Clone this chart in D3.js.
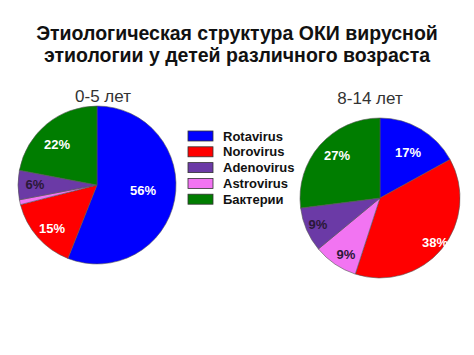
<!DOCTYPE html>
<html>
<head>
<meta charset="utf-8">
<script src="https://cdn.jsdelivr.net/npm/d3@7"></script>
<style>
  body { margin: 0; background: #fff; }
  svg { display: block; font-family: "Liberation Sans", Arial, sans-serif; }
</style>
</head>
<body>
<div id="chart"></div>
<script>
// categories in legend order
var categories = ["Rotavirus", "Norovirus", "Adenovirus", "Astrovirus", "Бактерии"];
var colors = ["#0000ff", "#ff0000", "#6b3aa6", "#f274f2", "#007d00"];

// slice order clockwise from 12 o'clock
var sliceOrder = ["Rotavirus", "Norovirus", "Astrovirus", "Adenovirus", "Бактерии"];
var values0to5 = [56, 15, 1, 6, 22];
var values8to14 = [17, 38, 9, 9, 27];
var labels0to5 = ["56%", "15%", "", "6%", "22%"];
var labels8to14 = ["17%", "38%", "9%", "9%", "27%"];

var titleLines = ["Этиологическая структура ОКИ вирусной", "этиологии у детей различного возраста"];
var pieTitles = ["0-5 лет", "8-14 лет"];

var width = 474, height = 355;

var svg = d3.select("#chart").append("svg")
    .attr("width", width)
    .attr("height", height);

var color = d3.scaleOrdinal().domain(categories).range(colors);

// title
svg.selectAll("text.title")
    .data(titleLines)
    .enter()
    .append("text")
    .attr("class", "title")
    .attr("x", 237)
    .attr("y", function(d, i) { return 40 + i * 22; })
    .attr("text-anchor", "middle")
    .style("font-size", "19.5px")
    .style("font-weight", "bold")
    .style("fill", "#111")
    .text(function(d) { return d; });

var pies = [
    {cx: 97, cy: 185, r: 79, values: values0to5, labels: labels0to5, title: pieTitles[0], tx: 103, ty: 102,
     labelPos: [[143, 190], [52, 228], [0, 0], [35, 184], [57, 144]]},
    {cx: 380, cy: 198, r: 80, values: values8to14, labels: labels8to14, title: pieTitles[1], tx: 370, ty: 104,
     labelPos: [[408, 152], [435, 242], [346, 254], [318, 224], [337, 155]]}
];

var pie = d3.pie().sort(null).value(function(d) { return d.v; });
var arc = d3.arc().innerRadius(0);

pies.forEach(function(p) {
    var data = sliceOrder.map(function(c, i) {
        return {cat: c, v: p.values[i], label: p.labels[i], pos: p.labelPos[i]};
    });
    var g = svg.append("g").attr("transform", "translate(" + p.cx + "," + p.cy + ")");
    var arcs = pie(data);
    arc.outerRadius(p.r);

    g.selectAll("path")
        .data(arcs)
        .enter()
        .append("path")
        .attr("d", arc)
        .style("fill", function(d) { return color(d.data.cat); })
        .style("stroke", "#555")
        .style("stroke-width", 0.6);

    svg.selectAll(null)
        .data(arcs.filter(function(d) { return d.data.label; }))
        .enter()
        .append("text")
        .attr("x", function(d) { return d.data.pos[0]; })
        .attr("y", function(d) { return d.data.pos[1]; })
        .attr("dy", "0.35em")
        .attr("text-anchor", "middle")
        .style("font-size", "13px")
        .style("font-weight", "bold")
        .style("fill", function(d) {
            return (d.data.cat === "Adenovirus" || d.data.cat === "Astrovirus") ? "#2a1838" : "#ffffff";
        })
        .text(function(d) { return d.data.label; });

    svg.append("text")
        .attr("x", p.tx)
        .attr("y", p.ty)
        .attr("text-anchor", "middle")
        .style("font-size", "17px")
        .style("fill", "#333")
        .text(p.title);
});

// legend
var legend = svg.append("g").attr("transform", "translate(188,131)");
var rows = legend.selectAll("g")
    .data(categories)
    .enter()
    .append("g")
    .attr("transform", function(d, i) { return "translate(0," + (i * 15.8) + ")"; });

rows.append("rect")
    .attr("width", 25)
    .attr("height", 10)
    .style("fill", function(d) { return color(d); })
    .style("stroke", "#333")
    .style("stroke-width", 0.8);

rows.append("text")
    .attr("x", 35)
    .attr("y", 5)
    .attr("dy", "0.35em")
    .style("font-size", "13px")
    .style("font-weight", "bold")
    .style("fill", "#111")
    .text(function(d) { return d; });
</script>
</body>
</html>
